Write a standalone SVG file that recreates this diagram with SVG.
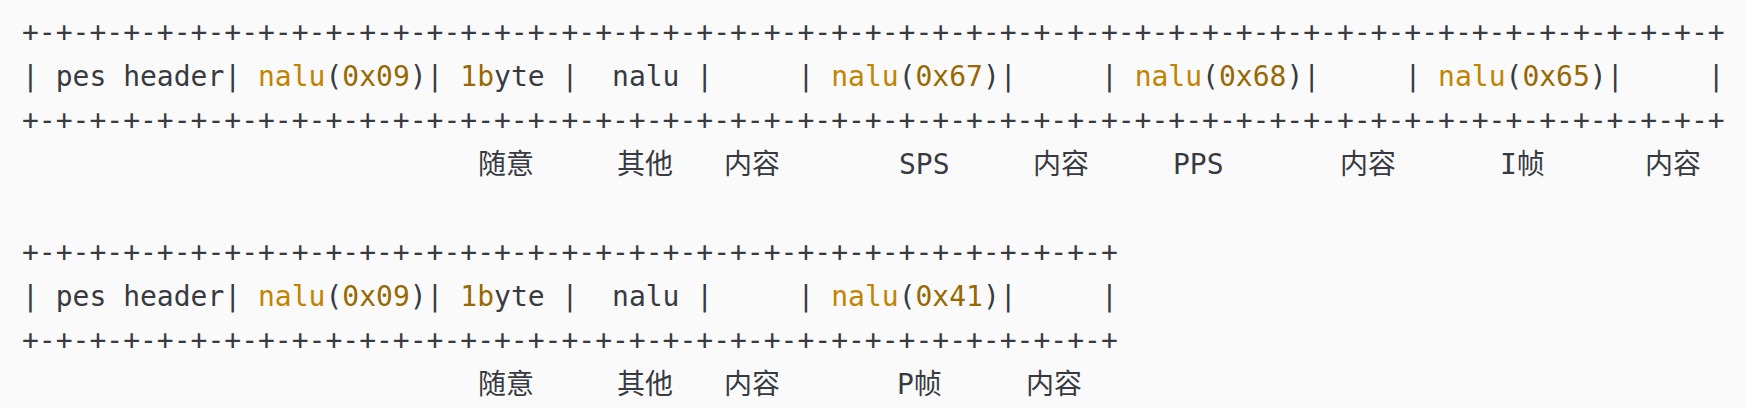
<svg xmlns="http://www.w3.org/2000/svg" width="1746" height="408" viewBox="0 0 1746 408">
<style>
text{font-family:"DejaVu Sans Mono","Noto Sans CJK SC",monospace;font-size:28px;fill:#383a42;white-space:pre}
.b{fill:#c18401}.n{fill:#986801}
</style>
<rect width="1746" height="408" fill="#fafafa"/>
<g id="table1">
<text x="22" y="42" xml:space="preserve">+-+-+-+-+-+-+-+-+-+-+-+-+-+-+-+-+-+-+-+-+-+-+-+-+-+-+-+-+-+-+-+-+-+-+-+-+-+-+-+-+-+-+-+-+-+-+-+-+-+-+</text>
<text x="22" y="86" xml:space="preserve">| pes header| <tspan class="b">nalu</tspan>(<tspan class="n">0x09</tspan>)| <tspan class="n">1b</tspan>yte |  nalu |     | <tspan class="b">nalu</tspan>(<tspan class="n">0x67</tspan>)|     | <tspan class="b">nalu</tspan>(<tspan class="n">0x68</tspan>)|     | <tspan class="b">nalu</tspan>(<tspan class="n">0x65</tspan>)|     |</text>
<text x="22" y="130" xml:space="preserve">+-+-+-+-+-+-+-+-+-+-+-+-+-+-+-+-+-+-+-+-+-+-+-+-+-+-+-+-+-+-+-+-+-+-+-+-+-+-+-+-+-+-+-+-+-+-+-+-+-+-+</text>
</g>
<g id="labels1">
<text x="478" y="174">随意</text>
<text x="617" y="174">其他</text>
<text x="724" y="174">内容</text>
<text x="899" y="174">SPS</text>
<text x="1033" y="174">内容</text>
<text x="1173" y="174">PPS</text>
<text x="1340" y="174">内容</text>
<text x="1500" y="174">I帧</text>
<text x="1645" y="174">内容</text>
</g>
<g id="table2">
<text x="22" y="262" xml:space="preserve">+-+-+-+-+-+-+-+-+-+-+-+-+-+-+-+-+-+-+-+-+-+-+-+-+-+-+-+-+-+-+-+-+</text>
<text x="22" y="306" xml:space="preserve">| pes header| <tspan class="b">nalu</tspan>(<tspan class="n">0x09</tspan>)| <tspan class="n">1b</tspan>yte |  nalu |     | <tspan class="b">nalu</tspan>(<tspan class="n">0x41</tspan>)|     |</text>
<text x="22" y="350" xml:space="preserve">+-+-+-+-+-+-+-+-+-+-+-+-+-+-+-+-+-+-+-+-+-+-+-+-+-+-+-+-+-+-+-+-+</text>
</g>
<g id="labels2">
<text x="478" y="394">随意</text>
<text x="617" y="394">其他</text>
<text x="724" y="394">内容</text>
<text x="897" y="394">P帧</text>
<text x="1026" y="394">内容</text>
</g>
<g id="connectors"/>
</svg>
